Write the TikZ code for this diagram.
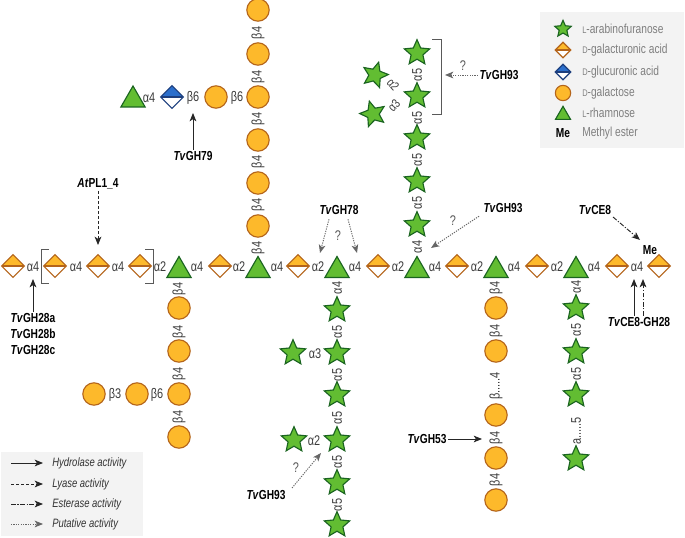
\documentclass[tikz,border=0pt]{standalone}
\usepackage{fontspec}
\setmainfont[FakeStretch=0.78]{Liberation Sans}
\usetikzlibrary{shapes.geometric,arrows.meta}
\definecolor{gorange}{HTML}{FDB92B}
\definecolor{borange}{HTML}{B4641A}
\definecolor{ggreen}{HTML}{62BD32}
\definecolor{bgreen}{HTML}{1A6420}
\definecolor{gblue}{HTML}{2B6FCC}
\definecolor{bblue}{HTML}{1D3F7E}
\definecolor{panel}{HTML}{F3F3F3}
\definecolor{txt}{HTML}{3C3C3C}
\definecolor{leg}{HTML}{7F7F7F}
\tikzset{
  x=0.75pt,y=-0.75pt,
  halfdia/.style n args={3}{shape=diamond,aspect=1,inner sep=0pt,minimum width=#3,minimum height=#3,
     draw=#2,line width=0.85pt,fill=white,
     path picture={\fill[#1] (path picture bounding box.west) rectangle (path picture bounding box.north east);
       \draw[#2,line width=0.85pt] (path picture bounding box.west) -- (path picture bounding box.east);}},
  gala/.style={halfdia={gorange}{borange}{17.5pt}},
  glca/.style={halfdia={gblue}{bblue}{#1}},
  glca/.default=17.5pt,
  galb/.style={circle,inner sep=0pt,minimum size=#1,draw=borange,line width=0.85pt,fill=gorange},
  galb/.default=16.8pt,
  rha/.style={regular polygon,regular polygon sides=3,inner sep=0pt,minimum size=#1,draw=bgreen,line width=0.85pt,fill=ggreen},
  rha/.default=21pt,
  ara/.style={star,star points=5,star point ratio=2.15,inner sep=0pt,minimum size=#1,draw=bgreen,line width=0.85pt,fill=ggreen},
  ara/.default=20pt,
  lab/.style={inner sep=0pt,text=txt,font=\fontsize{10.5}{11}\selectfont},
  vlab/.style={lab,rotate=90},
  enz/.style={inner sep=1pt,text=black,font=\fontsize{9.8}{11}\selectfont\bfseries},
  hyd/.style={-{Stealth[length=6.2pt,width=5pt,inset=1.6pt]},line width=0.7pt,draw=black!85},
  lya/.style={hyd,dash pattern=on 2.2pt off 1.6pt},
  est/.style={hyd,dash pattern=on 3.6pt off 1.2pt on 0.9pt off 1.2pt},
  put/.style={-{Stealth[length=6.2pt,width=5pt,inset=1.6pt]},line width=0.7pt,draw=black!60,dash pattern=on 0.9pt off 0.9pt},
  leglab/.style={anchor=west,inner sep=0pt,text=leg,font=\fontsize{9.8}{10}\selectfont},
  actlab/.style={anchor=west,inner sep=0pt,text=black!80,font=\fontsize{9.1}{10}\selectfont\itshape},
  brk/.style={draw=black!65,line width=0.7pt},
  qm/.style={inner sep=0pt,text=black!65,font=\fontsize{10.5}{11}\selectfont},
}
\newcommand{\smc}[1]{{\fontsize{7.2}{8}\selectfont #1}}
\newcommand{\enzT}[1]{\textit{#1}}
\begin{document}
\begin{tikzpicture}
\useasboundingbox (0,0) rectangle (685,538);
\fill[white] (0,0) rectangle (685,538);
% panels
\node[fill=panel,minimum width=108pt,minimum height=102pt,inner sep=0pt,anchor=north west] (legendA) at (540,12) {};
\node[fill=panel,minimum width=106pt,minimum height=63pt,inner sep=0pt,anchor=north west] (legendB) at (1,452) {};

% main chain
\foreach \n/\x in {d1/13,d2/55,d3/98,d4/140,d5/220,d6/298,d7/378,d8/457,d9/537,d10/617,d11/659}
  \node[gala] (\n) at (\x,266) {};
\foreach \n/\x in {r1/179,r2/258,r3/337,r4/417,r5/496,r6/576}
  \node[rha] (\n) at (\x,270.5) {};
\foreach \n/\x/\t in {a1/33/α4,a2/76/α4,a3/118/α4,a4/160/α2,a5/197/α4,a6/239/α2,a7/277/α4,a8/318/α2,a9/355/α4,a10/398/α2,a11/435/α4,a12/477/α2,a13/514/α4,a14/557/α2,a15/594/α4,a16/637/α4}
  \node[lab] (\n) at (\x,266.5) {\t};

% brackets
\coordinate (bl1) at (49,249); \coordinate (bl2) at (41,249); \coordinate (bl3) at (41,283); \coordinate (bl4) at (49,283);
\draw[brk] (bl1) -- (bl2) -- (bl3) -- (bl4);
\coordinate (br1) at (145,249); \coordinate (br2) at (153,249); \coordinate (br3) at (153,283); \coordinate (br4) at (145,283);
\draw[brk] (br1) -- (br2) -- (br3) -- (br4);

% top galactan column
\foreach \n/\y in {ct1/10,ct2/54,ct3/97,ct4/140,ct5/183,ct6/226}
  \node[galb] (\n) at (258,\y) {};
\foreach \n/\y in {lt1/33,lt2/77,lt3/119,lt4/162,lt5/205,lt6/248}
  \node[vlab] (\n) at (258,\y) {β4};
% top row
\node[rha] (tr) at (133,100) {};
\node[lab] (tl1) at (149,98) {α4};
\node[glca] (td) at (172,97) {};
\node[lab] (tl2) at (193,98) {β6};
\node[galb] (tc) at (216,97) {};
\node[lab] (tl3) at (237,98) {β6};

% left column
\foreach \n/\y in {cl1/308,cl2/351,cl3/394,cl4/437}
  \node[galb] (\n) at (179,\y) {};
\foreach \n/\y in {ll1/289,ll2/332,ll3/374,ll4/417}
  \node[vlab] (\n) at (179,\y) {β4};
\node[galb] (cs1) at (94,394) {};
\node[lab] (ls1) at (115,395) {β3};
\node[galb] (cs2) at (137,394) {};
\node[lab] (ls2) at (157,395) {β6};

% column x=337
\foreach \n/\y in {s1/310,s2/353,s3/395,s4/440,s5/483,s6/525}
  \node[ara] (\n) at (337,\y) {};
\node[vlab] (m0) at (337,288) {α4};
\foreach \n/\y in {m1/332,m2/375,m3/418,m4/462,m5/505}
  \node[vlab] (\n) at (337,\y) {α5};
\node[ara] (ss1) at (293,353) {};
\node[lab] (ml1) at (315,354) {α3};
\node[ara] (ss2) at (294,440) {};
\node[lab] (ml2) at (314,441) {α2};

% column x=417
\foreach \n/\y in {u1/53,u2/96,u3/138,u4/181,u5/225}
  \node[ara] (\n) at (417,\y) {};
\node[vlab] (n0) at (417,247) {α4};
\foreach \n/\y in {n1/75,n2/118,n3/160,n4/203}
  \node[vlab] (\n) at (417,\y) {α5};
\node[ara,rotate=-16] (us1) at (375,75) {};
\node[ara,rotate=16] (us2) at (373,114) {};
\node[lab,rotate=-48,font=\fontsize{9.5}{10}\selectfont] (nl1) at (393,84.5) {α2};
\node[lab,rotate=48,font=\fontsize{9.5}{10}\selectfont] (nl2) at (394,105.5) {α3};
\coordinate (bu1) at (432,39); \coordinate (bu2) at (441,39); \coordinate (bu3) at (441,114); \coordinate (bu4) at (432,114);
\draw[brk] (bu1) -- (bu2) -- (bu3) -- (bu4);

% column x=496
\foreach \n/\y in {g1/308,g2/351,g3/415,g4/458,g5/500}
  \node[galb] (\n) at (496,\y) {};
\foreach \n/\y in {p1/288,p2/331,p4/438,p5/480}
  \node[vlab] (\n) at (496,\y) {β4};
\node[vlab] (p3) at (496,386) {β.....4};

% column x=576
\foreach \n/\y in {w1/308,w2/352,w3/395,w4/459}
  \node[ara] (\n) at (576,\y) {};
\node[vlab] (q0) at (576,287) {α4};
\node[vlab] (q1) at (576,330) {α5};
\node[vlab] (q2) at (576,374) {α5};
\node[vlab] (q3) at (576,431) {a.....5};

% enzymes
\node[enz] (gh79) at (193,156) {\enzT{Tv}GH79};
\coordinate (e79) at (193,113);
\draw[hyd] (gh79) -- (e79);
\node[enz] (pl1) at (98,184) {\enzT{At}PL1\_4};
\coordinate (epl) at (98,245);
\draw[lya] (pl1) -- (epl);
\node[enz,align=center,font=\fontsize{9.8}{12}\selectfont\bfseries] (gh28) at (33,334) {\enzT{Tv}GH28a\\\enzT{Tv}GH28b\\\enzT{Tv}GH28c};
\coordinate (e28) at (33,279);
\draw[hyd] (gh28) -- (e28);
\node[enz] (gh78) at (339,210) {\enzT{Tv}GH78};
\coordinate (e78a) at (320,253); \coordinate (e78b) at (357,253);
\draw[put] ([shift={(-10,3)}]gh78.south) -- (e78a);
\draw[put] ([shift={(9,3)}]gh78.south) -- (e78b);
\node[qm] (q78) at (338,236) {?};
\node[enz] (gh93a) at (503,208) {\enzT{Tv}GH93};
\coordinate (e93a) at (431,248);
\draw[put] ([shift={(-24,2)}]gh93a.south) -- (e93a);
\node[qm] (q93a) at (453,221) {?};
\node[enz] (gh93b) at (499,75) {\enzT{Tv}GH93};
\coordinate (e93b) at (445,75);
\draw[put] (gh93b) -- (e93b);
\node[qm] (q93b) at (463,66) {?};
\node[enz] (gh93c) at (266,495) {\enzT{Tv}GH93};
\coordinate (e93c) at (321,453);
\draw[put] ([shift={(26,-7)}]gh93c.center) -- (e93c);
\node[qm] (q93c) at (296,468) {?};
\node[enz] (gh53) at (427,439) {\enzT{Tv}GH53};
\coordinate (e53) at (482,439);
\draw[hyd] (gh53) -- (e53);
\node[enz] (ce8) at (595,210) {\enzT{Tv}CE8};
\node[enz,inner sep=0pt] (me) at (650,250) {Me};
\draw[est] ([shift={(18,7)}]ce8.center) -- ([shift={(-10,-10)}]me.center);
\node[enz] (ce28) at (639,322) {\enzT{Tv}CE8-GH28};
\coordinate (e28a) at (634,279); \coordinate (e28b) at (643,279);
\draw[hyd] (ce28.north -| e28a) -- (e28a);
\draw[est] (ce28.north -| e28b) -- (e28b);

% legend top right
\node[ara=13pt] (ka) at (563,29) {};
\node[halfdia={gorange}{borange}{12pt}] (kb) at (563,50) {};
\node[halfdia={gblue}{bblue}{12pt}] (kc) at (563,72) {};
\node[galb=11.5pt] (kd) at (563,93) {};
\node[rha=13pt] (ke) at (563,115) {};
\node[enz,inner sep=0pt] (kf) at (563,133) {Me};
\node[leglab] (ta) at (582,29) {\smc{L}-arabinofuranose};
\node[leglab] (tb) at (582,50) {\smc{D}-galacturonic acid};
\node[leglab] (tc2) at (582,72) {\smc{D}-glucuronic acid};
\node[leglab] (td2) at (582,93) {\smc{D}-galactose};
\node[leglab] (te) at (582,113) {\smc{L}-rhamnose};
\node[leglab] (tf) at (582,133) {Methyl ester};

% legend bottom left
\node[actlab] (h1) at (52,463) {Hydrolase activity};
\node[actlab] (h2) at (52,484) {Lyase activity};
\node[actlab] (h3) at (52,504) {Esterase activity};
\node[actlab] (h4) at (52,524) {Putative activity};
\coordinate (f1) at (11,463); \coordinate (f2) at (11,484); \coordinate (f3) at (11,504); \coordinate (f4) at (11,524);
\coordinate (t1) at (43,463); \coordinate (t2) at (43,484); \coordinate (t3) at (43,504); \coordinate (t4) at (43,524);
\draw[hyd] (f1) -- (t1);
\draw[lya] (f2) -- (t2);
\draw[est] (f3) -- (t3);
\draw[put] (f4) -- (t4);
\end{tikzpicture}
\end{document}
